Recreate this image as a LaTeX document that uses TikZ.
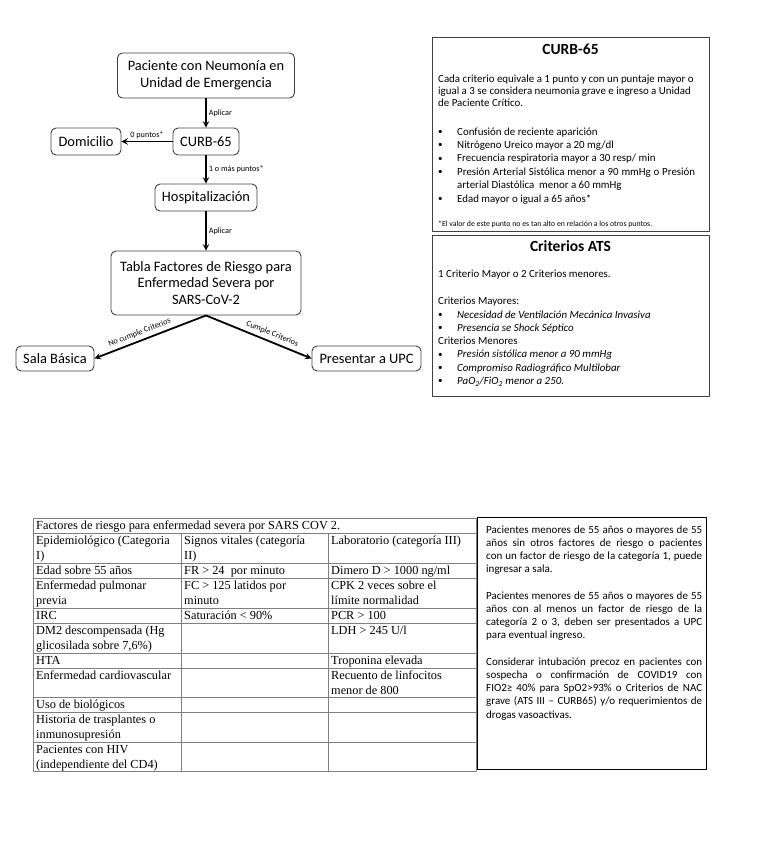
\documentclass[tikz,border=0pt]{standalone}
\usepackage{fontspec}
\setmainfont{Carlito}
\newfontfamily\tablafont{Liberation Serif}
\newcommand{\esp}{\spaceskip=0pt\xspaceskip=0pt\relax}
\newcommand{\bul}{\makebox[19pt][l]{\fontsize{9}{9}\selectfont\raisebox{0.6pt}{\textbullet}}}
\newcommand{\jl}[1]{\makebox[216pt][s]{\esp#1}}
\begin{document}
\begin{tikzpicture}[x=1pt, y=-1pt, >=stealth, line join=round,
    caja/.style={draw=black!75, line width=0.9pt, rounded corners=5pt, align=center, inner sep=0pt, font=\fontsize{14.4}{16.5}\selectfont},
    flecha/.style={->, line width=1.8pt},
    etiq/.style={font=\fontsize{8.2}{9}\selectfont, inner sep=2pt},
    marco/.style={draw=black!75, line width=1pt},
    titulo/.style={font=\bfseries\fontsize{15.5}{18}\selectfont},
    texto/.style={anchor=base west, inner sep=0pt, text width=285pt, execute at begin node=\esp, font=\fontsize{10.9}{12.1}\selectfont},
    celda/.style={anchor=base west, inner sep=0pt, text width=144pt, execute at begin node=\esp, font=\tablafont\fontsize{12.3}{14.9}\selectfont},
    rejilla/.style={draw=black!50, line width=0.7pt}]
  \useasboundingbox (0,0) rectangle (768,866);

  % Diagrama de flujo
  \node[caja, minimum width=177, minimum height=45] (pac) at (206,75.5) {Paciente con Neumonía en\\Unidad de Emergencia};
  \node[caja, minimum width=66, minimum height=27] (curb) at (206,141.5) {CURB-65};
  \node[caja, minimum width=70, minimum height=27] (dom) at (86,141.5) {Domicilio};
  \node[caja, minimum width=102, minimum height=27] (hosp) at (206,197.5) {Hospitalización};
  \node[caja, minimum width=190, minimum height=64] (tabla) at (206,283) {Tabla Factores de Riesgo para\\Enfermedad Severa por\\SARS-CoV-2};
  \node[caja, minimum width=78, minimum height=25] (sala) at (55,358.5) {Sala Básica};
  \node[caja, minimum width=109, minimum height=25] (upc) at (366.5,358.5) {Presentar a UPC};

  \draw[flecha] (pac) -- node[etiq, right] {Aplicar} (curb);
  \draw[flecha] (curb) -- node[etiq, above] {0 puntos*} (dom);
  \draw[flecha] (curb) -- node[etiq, right] {1 o más puntos*} (hosp);
  \draw[flecha] (hosp) -- node[etiq, right] {Aplicar} (tabla);
  \draw[flecha] (tabla.south) -- node[etiq, sloped, above=1.5pt, pos=0.57] {No cumple Criterios} (sala.east);
  \draw[flecha] (tabla.south) -- node[etiq, sloped, above=1.5pt, pos=0.6] {Cumple Criterios} (upc.west);

  % Recuadro CURB-65
  \draw[marco] (432,38) rectangle (709,232);
  \node[titulo] (tcurb) at (570.5,49) {CURB-65};
  \node[texto] (pcurb) at (438,82.7) {\esp Cada criterio equivale a 1 punto y con un puntaje mayor o\\igual a 3 se considera neumonia grave e ingreso a Unidad\\de Paciente Crítico.};
  \node[texto, font=\fontsize{10.9}{13.4}\selectfont] (lcurb) at (438,135.2) {\esp\bul Confusión de reciente aparición\\
    \bul Nitrógeno Ureico mayor a 20 mg/dl\\
    \bul Frecuencia respiratoria mayor a 30 resp/ min\\
    \bul\makebox[238pt][s]{\esp Presión Arterial Sistólica menor a 90 mmHg o Presión}\\
    \hspace*{19pt}arterial Diastólica\ \ menor a 60 mmHg\\
    \bul Edad mayor o igual a 65 años*};
  \node[texto, font=\fontsize{7.8}{9}\selectfont] (ncurb) at (438,226.6) {\esp*El valor de este punto no es tan alto en relación a los otros puntos.};

  % Recuadro criterios ATS
  \draw[marco] (432,236) rectangle (709,396);
  \node[titulo] (tats) at (570.5,246) {Criterios ATS};
  \node[texto] (pats) at (438,277.7) {\esp 1 Criterio Mayor o 2 Criterios menores.};
  \node[texto, font=\fontsize{10.9}{13.3}\selectfont] (lats) at (438,304.7) {\esp Criterios Mayores:\\
    \bul\textit{Necesidad de Ventilación Mecánica Invasiva}\\
    \bul\textit{Presencia se Shock Séptico}\\
    Criterios Menores\\
    \bul\textit{Presión sistólica menor a 90 mmHg}\\
    \bul\textit{Compromiso Radiográfico Multilobar}\\
    \bul\textit{PaO\textsubscript{2}/FiO\textsubscript{2} menor a 250.}};

  % Tabla de factores de riesgo
  \draw[rejilla] (33,518) rectangle (476,771);
  \foreach \y in {533,563,578,608,623,653,668,697,712,742}
    \draw[rejilla] (33,\y) -- (476,\y);
  \foreach \x in {181,328}
    \draw[rejilla] (\x,533) -- (\x,771);
  \node[celda, text width=420pt] (ttab) at (36,529.5) {\esp Factores de riesgo para enfermedad severa por SARS COV 2.};
  \foreach \y/\t [count=\i] in {533/{Epidemiológico (Categoria\\I)}, 563/{Edad sobre 55 años},
      578/{Enfermedad pulmonar\\previa}, 608/{IRC}, 623/{DM2 descompensada (Hg\\glicosilada sobre 7,6\%)},
      653/{HTA}, 668/{Enfermedad cardiovascular}, 697/{Uso de biológicos},
      712/{Historia de trasplantes o\\inmunosupresión}, 742/{Pacientes con HIV\\(independiente del CD4)}}
    \node[celda] (epi\i) at (36,\y+11.5) {\esp\t};
  \foreach \y/\t [count=\i] in {533/{Signos vitales (categoría\\II)}, 563/{FR > 24\ \ por minuto},
      578/{FC > 125 latidos por\\minuto}, 608/{Saturación < 90\%}}
    \node[celda] (sig\i) at (184,\y+11.5) {\esp\t};
  \foreach \y/\t [count=\i] in {533/{Laboratorio (categoría III)}, 563/{Dimero D > 1000 ng/ml},
      578/{CPK 2 veces sobre el\\límite normalidad}, 608/{PCR > 100}, 623/{LDH > 245 U/l},
      653/{Troponina elevada}, 668/{Recuento de linfocitos\\menor de 800}}
    \node[celda] (lab\i) at (331,\y+11.5) {\esp\t};

  % Recuadro de indicaciones
  \draw[draw=black, line width=1pt] (477,517) rectangle (706,769);
  \node[texto, text width=220pt, font=\fontsize{11}{13.2}\selectfont] (ind) at (486,533.3) {\jl{Pacientes menores de 55 años o mayores de 55}\\
    \jl{años sin otros factores de riesgo o pacientes}\\
    \jl{con un factor de riesgo de la categoría 1, puede}\\
    \esp ingresar a sala.\\[13.2pt]
    \jl{Pacientes menores de 55 años o mayores de 55}\\
    \jl{años con al menos un factor de riesgo de la}\\
    \jl{categoría 2 o 3, deben ser presentados a UPC}\\
    \esp para eventual ingreso.\\[13.2pt]
    \jl{Considerar intubación precoz en pacientes con}\\
    \jl{sospecha o confirmación de COVID19 con}\\
    \jl{FIO2≥ 40\% para SpO2>93\% o Criterios de NAC}\\
    \jl{grave (ATS III -- CURB65) y/o requerimientos de}\\
    \esp drogas vasoactivas.};
\end{tikzpicture}
\end{document}
